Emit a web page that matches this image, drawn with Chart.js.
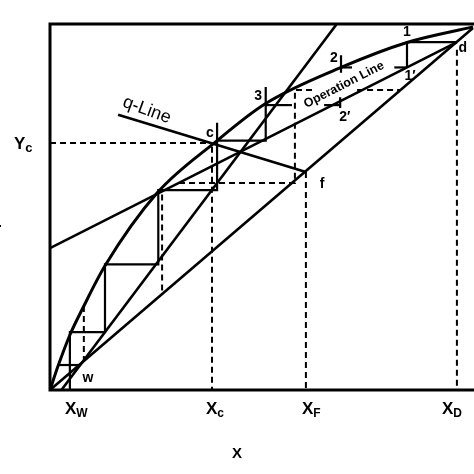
<!DOCTYPE html>
<html>
<head>
<meta charset="utf-8">
<script src="https://cdn.jsdelivr.net/npm/chart.js@4/dist/chart.umd.min.js"></script>
<style>
  html, body { margin: 0; padding: 0; background: #fff; }
  canvas { display: block; }
</style>
</head>
<body>
<canvas id="grafica" width="474" height="474"></canvas>
<script>
// equilibrium curve (0..1 on both axes)
const eqX = [0, 0.019, 0.047, 0.080, 0.130, 0.253, 0.390, 0.508, 0.688, 0.844, 1.0];
const eqY = [0, 0.066, 0.152, 0.232, 0.343, 0.544, 0.684, 0.790, 0.891, 0.960, 1.003];

// straight lines: [x, y] end points
const diagonal = [[0, 0], [1, 1]];
const operationLine = [[0, 0.392], [0.962, 0.961]];
const qLine = [[0.161, 0.760], [0.605, 0.602]];
const strippingLine = [[0.027, 0], [0.678, 1.011]];

// staircase (solid)
const stepsTop = [[0.962, 0.961], [0.844, 0.961], [0.844, 0.891]];           // d -> 1 -> 1'
const stepsMain = [[0.51, 0.837], [0.51, 0.689], [0.395, 0.689], [0.395, 0.738]]; // 3 -> c, with ticks
const stepsLow = [[0.395, 0.689], [0.395, 0.552], [0.256, 0.552], [0.256, 0.347],
                  [0.130, 0.347], [0.130, 0.160], [0.047, 0.160], [0.047, 0]];
const stepsSmall = [[0.019, 0.069], [0.071, 0.069]];
const stubs = [
  [[0.814, 0.891], [0.844, 0.891]],   // 1'
  [[0.688, 0.925], [0.688, 0.876]],   // 2
  [[0.688, 0.891], [0.714, 0.891]],
  [[0.686, 0.809], [0.686, 0.779]],   // 2'
  [[0.648, 0.787], [0.686, 0.787]],
  [[0.51, 0.787], [0.572, 0.787]]     // 3
];

// dashed guide lines
const dashed = [
  [[0, 0.682], [0.383, 0.682]],                       // Yc
  [[0.383, 0.672], [0.383, 0]],                       // Xc
  [[0.605, 0.602], [0.605, 0]],                       // XF
  [[0.962, 0.94], [0.962, 0]],                        // XD
  [[0.080, 0.232], [0.080, 0.083]],
  [[0.265, 0.54], [0.265, 0.265]],
  [[0.305, 0.572], [0.579, 0.572], [0.579, 0.829], [0.62, 0.829]],
  [[0.726, 0.829], [0.830, 0.829]]
];

// axis marks
const tickNames = ['W', 'c', 'F', 'D'];
const tickPos = [0.047, 0.383, 0.605, 0.962];
const yMarkName = 'c';
const yMarkPos = 0.682;

// point labels
const ptText = ['c', 'f', 'd', 'w', '1', '1\u2032', '2', '2\u2032', '3'];
const ptX = [0.378, 0.643, 0.976, 0.090, 0.844, 0.851, 0.671, 0.697, 0.492];
const ptY = [0.710, 0.569, 0.945, 0.033, 0.989, 0.867, 0.917, 0.754, 0.812];

function pts(arr) { return arr.map(p => ({ x: p[0], y: p[1] })); }
function lineSet(arr, width, dash) {
    return {
        data: pts(arr), showLine: true, borderColor: '#000', borderWidth: width,
        borderDash: dash || [], pointRadius: 0, fill: false, tension: 0,
        borderJoinStyle: 'miter'
    };
}

let datasets = [];
datasets.push(Object.assign(lineSet(eqX.map((x, i) => [x, eqY[i]]), 3), { cubicInterpolationMode: 'monotone' }));
datasets.push(lineSet(diagonal, 2.6));
datasets.push(lineSet(operationLine, 2.6));
datasets.push(lineSet(qLine, 2.6));
datasets.push(lineSet(strippingLine, 2.6));
datasets.push(lineSet(stepsTop, 2.2));
datasets.push(lineSet(stepsMain, 2.2));
datasets.push(lineSet(stepsLow, 2.2));
datasets.push(lineSet(stepsSmall, 2.2));
stubs.forEach(s => datasets.push(lineSet(s, 2.2)));
dashed.forEach(s => datasets.push(lineSet(s, 2, [6, 4])));

const textos = {
    id: 'textos',
    afterDraw(chart) {
        const ctx = chart.ctx;
        const a = chart.chartArea;
        const sx = chart.scales.x, sy = chart.scales.y;
        ctx.save();
        // frame (right side is cut off in the original)
        ctx.strokeStyle = '#000';
        ctx.lineWidth = 3;
        ctx.beginPath();
        ctx.moveTo(a.right + 2, a.top);
        ctx.lineTo(a.left, a.top);
        ctx.lineTo(a.left, a.bottom);
        ctx.lineTo(a.right + 2, a.bottom);
        ctx.stroke();

        ctx.fillStyle = '#000';
        ctx.textBaseline = 'alphabetic';

        // x marks
        const offs = [-5, -6, -4, -15];
        tickNames.forEach((n, i) => {
            const px = sx.getPixelForValue(tickPos[i]) + offs[i];
            ctx.font = 'bold 17px "Liberation Sans", Arial, sans-serif';
            ctx.textAlign = 'left';
            ctx.fillText('X', px, 414);
            const w = ctx.measureText('X').width;
            ctx.font = 'bold 12px "Liberation Sans", Arial, sans-serif';
            ctx.fillText(n, px + w, 417);
        });

        // y mark
        const py = sy.getPixelForValue(yMarkPos);
        ctx.font = 'bold 17px "Liberation Sans", Arial, sans-serif';
        ctx.fillText('Y', 14, py + 6);
        const wy = ctx.measureText('Y').width;
        ctx.font = 'bold 13px "Liberation Sans", Arial, sans-serif';
        ctx.fillText(yMarkName, 14 + wy, py + 9);

        // axis titles
        ctx.font = 'bold 15px "Liberation Sans", Arial, sans-serif';
        ctx.textAlign = 'center';
        ctx.fillText('X', 237, 458);
        ctx.save();
        ctx.translate(-4, 226);
        ctx.rotate(-Math.PI / 2);
        ctx.fillText('Y', 0, 5);
        ctx.restore();

        // point labels
        ctx.font = 'bold 14px "Liberation Sans", Arial, sans-serif';
        ctx.textBaseline = 'middle';
        ptText.forEach((t, i) => {
            ctx.fillText(t, sx.getPixelForValue(ptX[i]), sy.getPixelForValue(ptY[i]));
        });

        // line names
        ctx.save();
        ctx.translate(sx.getPixelForValue(0.229), sy.getPixelForValue(0.773));
        ctx.rotate(20 * Math.PI / 180);
        ctx.font = '18px "Liberation Sans", Arial, sans-serif';
        ctx.fillText('q-Line', 0, 0);
        ctx.restore();

        ctx.save();
        ctx.translate(sx.getPixelForValue(0.695), sy.getPixelForValue(0.843));
        ctx.rotate(-27 * Math.PI / 180);
        ctx.font = 'bold 12.5px "Liberation Sans", Arial, sans-serif';
        ctx.fillText('Operation Line', 0, 0);
        ctx.restore();

        ctx.restore();
    }
};

new Chart(document.getElementById('grafica').getContext('2d'), {
    type: 'scatter',
    data: { datasets: datasets },
    options: {
        responsive: false,
        animation: false,
        layout: { padding: { left: 50, top: 24, right: 0, bottom: 84 } },
        plugins: { legend: { display: false }, tooltip: { enabled: false } },
        scales: {
            x: { type: 'linear', min: 0, max: 1.0024, display: false },
            y: { type: 'linear', min: 0, max: 1.011, display: false }
        }
    },
    plugins: [textos]
});
</script>
</body>
</html>
